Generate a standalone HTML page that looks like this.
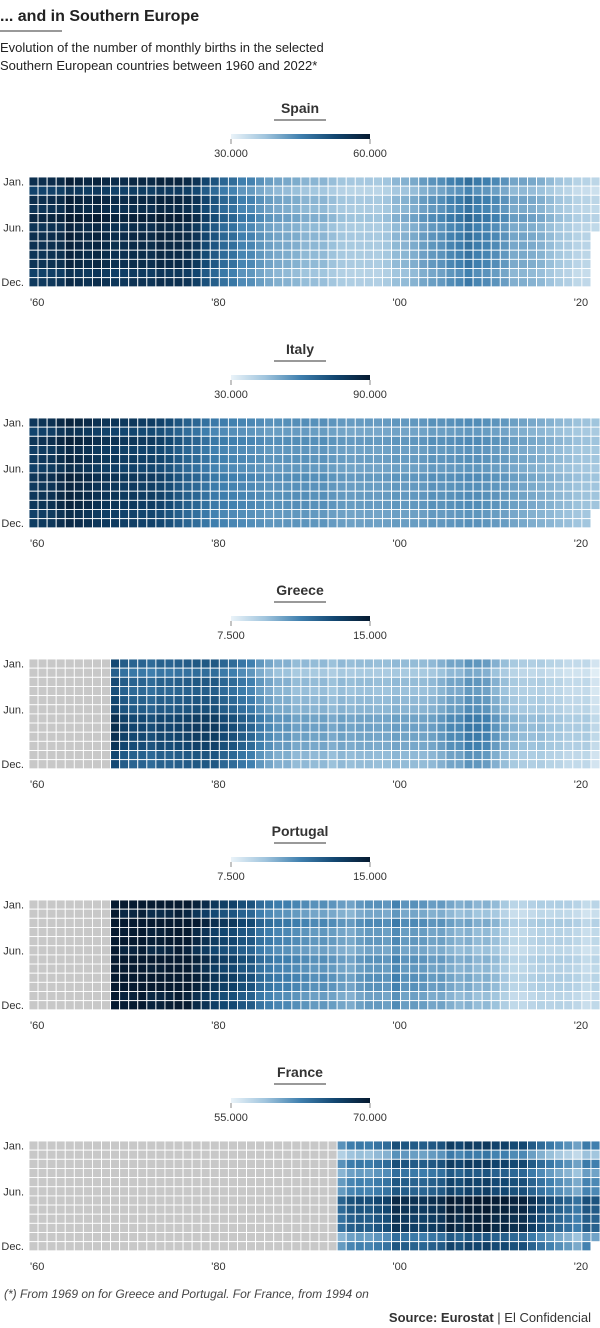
<!DOCTYPE html>
<html><head><meta charset="utf-8">
<style>
body{margin:0;background:#fff;width:600px;height:1328px;overflow:hidden;font-family:"Liberation Sans",sans-serif;color:#222}
svg{display:block}
</style></head>
<body>
<svg id="chart" width="600" height="1328">
<defs><linearGradient id="lg" x1="0" x2="1"><stop offset="0" stop-color="#eaf3f9"/><stop offset="0.25" stop-color="#9fc4dd"/><stop offset="0.5" stop-color="#3f7fae"/><stop offset="0.75" stop-color="#124670"/><stop offset="1" stop-color="#061a30"/></linearGradient></defs>
<text x="0" y="21" font-size="16" font-weight="bold" fill="#222">... and in Southern Europe</text>
<line x1="0" y1="31" x2="62" y2="31" stroke="#333" stroke-width="1"/>
<text x="0" y="52" font-size="13" fill="#222">Evolution of the number of monthly births in the selected</text>
<text x="0" y="70" font-size="13" fill="#222">Southern European countries between 1960 and 2022*</text>
<text x="4" y="1298" font-size="12" font-style="italic" fill="#444">(*) From 1969 on for Greece and Portugal. For France, from 1994 on</text>
<text x="591" y="1322" font-size="13" text-anchor="end" fill="#333"><tspan font-weight="bold">Source: Eurostat</tspan> |  El Confidencial</text>
<g id="panels"></g>
</svg>
<script>
const years = Array.from({length:63},(_,i)=>1960+i);
const monthLabels = ["Jan.","Jun.","Dec."];
const xTickLabels = ["'60","'80","'00","'20"];
const countries = ["Spain","Italy","Greece","Portugal","France"];
const spainYearly = [54.5,54.5,55,55.5,58,57,56,57,56,55,55,56,56,55.5,57,56.5,56.5,55.5,53.5,50,47.6,44.5,43.5,40.5,40,38,36.5,35.5,35,34.5,33.4,33.3,33.2,32,30.8,30.3,30.2,30.3,30,31,33.1,33.8,34.9,36.7,37.8,38.5,40.2,41,43.2,41.3,40.5,39.3,37.9,35.4,35.6,35,34.2,32.6,31,30,28.3,28,27.4];
const italyYearly = [76,77.5,78.5,82,84.5,83,81,78.5,77,77,75,75.5,74,74,72,69,65,61.5,59.5,56,53.3,52,51,50,49,48,46.5,46.8,47,47.4,47.4,46.8,47.1,45.5,44.6,43.8,44,44.2,43.7,44,45.2,44.6,44.9,45.3,46.8,46.2,46.7,47.2,48,47.8,46.8,45.8,44.9,42.8,41.9,40.5,39.4,38.2,36.6,35.4,33.7,33.3,32.8];
const greeceYearly = [null,null,null,null,null,null,null,null,null,12.9,12.1,11.8,11.8,11.5,11.9,11.8,12.0,12.1,12.3,12.3,12.3,11.7,11.5,11.0,10.6,9.8,9.3,8.9,8.9,8.5,8.6,8.5,8.6,8.3,8.6,8.4,8.5,8.5,8.4,8.4,8.6,8.5,8.5,8.5,8.6,8.9,9.3,9.3,9.9,9.8,9.6,8.9,8.4,7.9,7.7,7.6,7.7,7.4,7.3,7.0,7.0,7.1,6.4];
const portugalYearly = [null,null,null,null,null,null,null,null,null,16.2,15.0,15.1,15.4,14.7,14.8,15.0,15.5,15.1,14.3,13.8,13.2,12.8,12.7,12.1,11.9,10.9,10.5,10.2,10.1,9.9,9.7,9.5,9.6,9.4,9.1,8.9,9.3,9.5,9.5,9.3,10.0,9.4,9.5,9.4,9.1,9.2,8.8,8.5,8.7,8.3,8.4,8.1,7.5,6.9,6.9,7.1,7.3,7.2,7.3,7.2,7.0,6.6,6.9];
const franceYearly = [null,null,null,null,null,null,null,null,null,null,null,null,null,null,null,null,null,null,null,null,null,null,null,null,null,null,null,null,null,null,null,null,null,null,59.4,60.8,61.2,60.9,61.6,62.2,64.6,64.1,63.6,63.4,63.9,64.4,66.4,65.4,66.5,66.2,66.8,65.7,65.9,65.1,65.2,63.6,62.3,61.2,60.2,59.4,58.3,61.0,60.6];
const spainSeason = [1.02,0.94,1.02,1.0,1.05,1.0,1.02,1.01,1.0,1.0,0.95,0.98];
const italySeason = [1.02,0.95,1.03,0.98,1.0,0.97,1.03,1.01,1.02,1.02,0.97,0.99];
const greeceSeason = [0.97,0.9,0.97,0.95,0.98,1.0,1.07,1.08,1.07,1.05,0.98,0.97];
const portugalSeason = [1.02,0.95,1.05,0.99,1.0,0.96,1.02,1.0,1.03,1.02,0.97,0.99];
const franceSeason = [1.0,0.92,1.0,0.96,0.99,0.99,1.06,1.05,1.04,1.04,0.96,0.99];
const scaleMin = [30,30,7.5,7.5,55];
const scaleMax = [60,90,15,15,70];
const scaleLabels = [["30.000","60.000"],["30.000","90.000"],["7.500","15.000"],["7.500","15.000"],["55.000","70.000"]];
const lastYearMonths = [6,10,12,12,11];

const yearlyAll=[spainYearly,italyYearly,greeceYearly,portugalYearly,franceYearly];
const seasonAll=[spainSeason,italySeason,greeceSeason,portugalSeason,franceSeason];
const stops=[[228,239,246],[159,196,221],[63,127,174],[18,70,112],[6,26,48]];
function color(t){t=Math.max(0,Math.min(1,t));const p=t*4,i=Math.min(3,Math.floor(p)),f=p-i;
 const c=stops[i].map((v,k)=>Math.round(v+(stops[i+1][k]-v)*f));return `rgb(${c})`;}
function norm(v,ci){const r=scaleMax[ci]-scaleMin[ci];const lo=scaleMin[ci]-0.25*r;return (v-lo)/(1.25*r);}
const NS="http://www.w3.org/2000/svg";
const root=document.getElementById('panels');
function mk(tag,attrs,parent){const e=document.createElementNS(NS,tag);for(const k in attrs)e.setAttribute(k,attrs[k]);parent.appendChild(e);return e;}
const X0=29,CW=571/63,CH=9.15;
const xScale=i=>X0+i*CW;
const yScale=m=>m*CH;
countries.forEach((name,ci)=>{
 const off=ci*241;
 const g=mk('g',{transform:`translate(0,${off})`},root);
 
 
 const t=mk('text',{x:300,y:113,'font-size':14,'font-weight':'bold','text-anchor':'middle',fill:'#333'},g);
 t.textContent=name;
 
 
 mk('line',{x1:300-26,y1:120,x2:300+26,y2:120,stroke:'#333','stroke-width':1},g);
 const lb=mk('rect',{x:231,y:134,width:139,height:5,fill:'url(#lg)'},g);
 
 
 [231,370].forEach((lx,j)=>{
  mk('line',{x1:lx,y1:139,x2:lx,y2:144,stroke:'#888'},g);
  const lt=mk('text',{x:lx,y:157,'font-size':11,'text-anchor':'middle',fill:'#333'},g);
  lt.textContent=scaleLabels[ci][j];
  
  
 });
 const grid=mk('g',{transform:`translate(0,177)`},g);
 
 
 years.forEach((yr,yi)=>{
  const nm=yi===62?lastYearMonths[ci]:12;
  for(let m=0;m<nm;m++){
   const v=yearlyAll[ci][yi];
   const fill=v==null?'#c8c8c8':color(norm(v*seasonAll[ci][m],ci));
   const r=mk('rect',{x:xScale(yi),y:yScale(m),width:CW,height:CH,fill:fill,stroke:'#fff','stroke-width':0.9},grid);
   
   
  }
 });
 [0,5,11].forEach((m,j)=>{
  const yl=mk('text',{x:24,y:177+yScale(m)+CH/2+4,'font-size':11,'text-anchor':'end',fill:'#333'},g);
  yl.textContent=monthLabels[j];
  
  
 });
 [0,20,40,60].forEach((yi,j)=>{
  const xl=mk('text',{x:xScale(yi)+1,y:306,'font-size':11,fill:'#333'},g);
  xl.textContent=xTickLabels[j];
  
  
 });
});
</script>
</body></html>
